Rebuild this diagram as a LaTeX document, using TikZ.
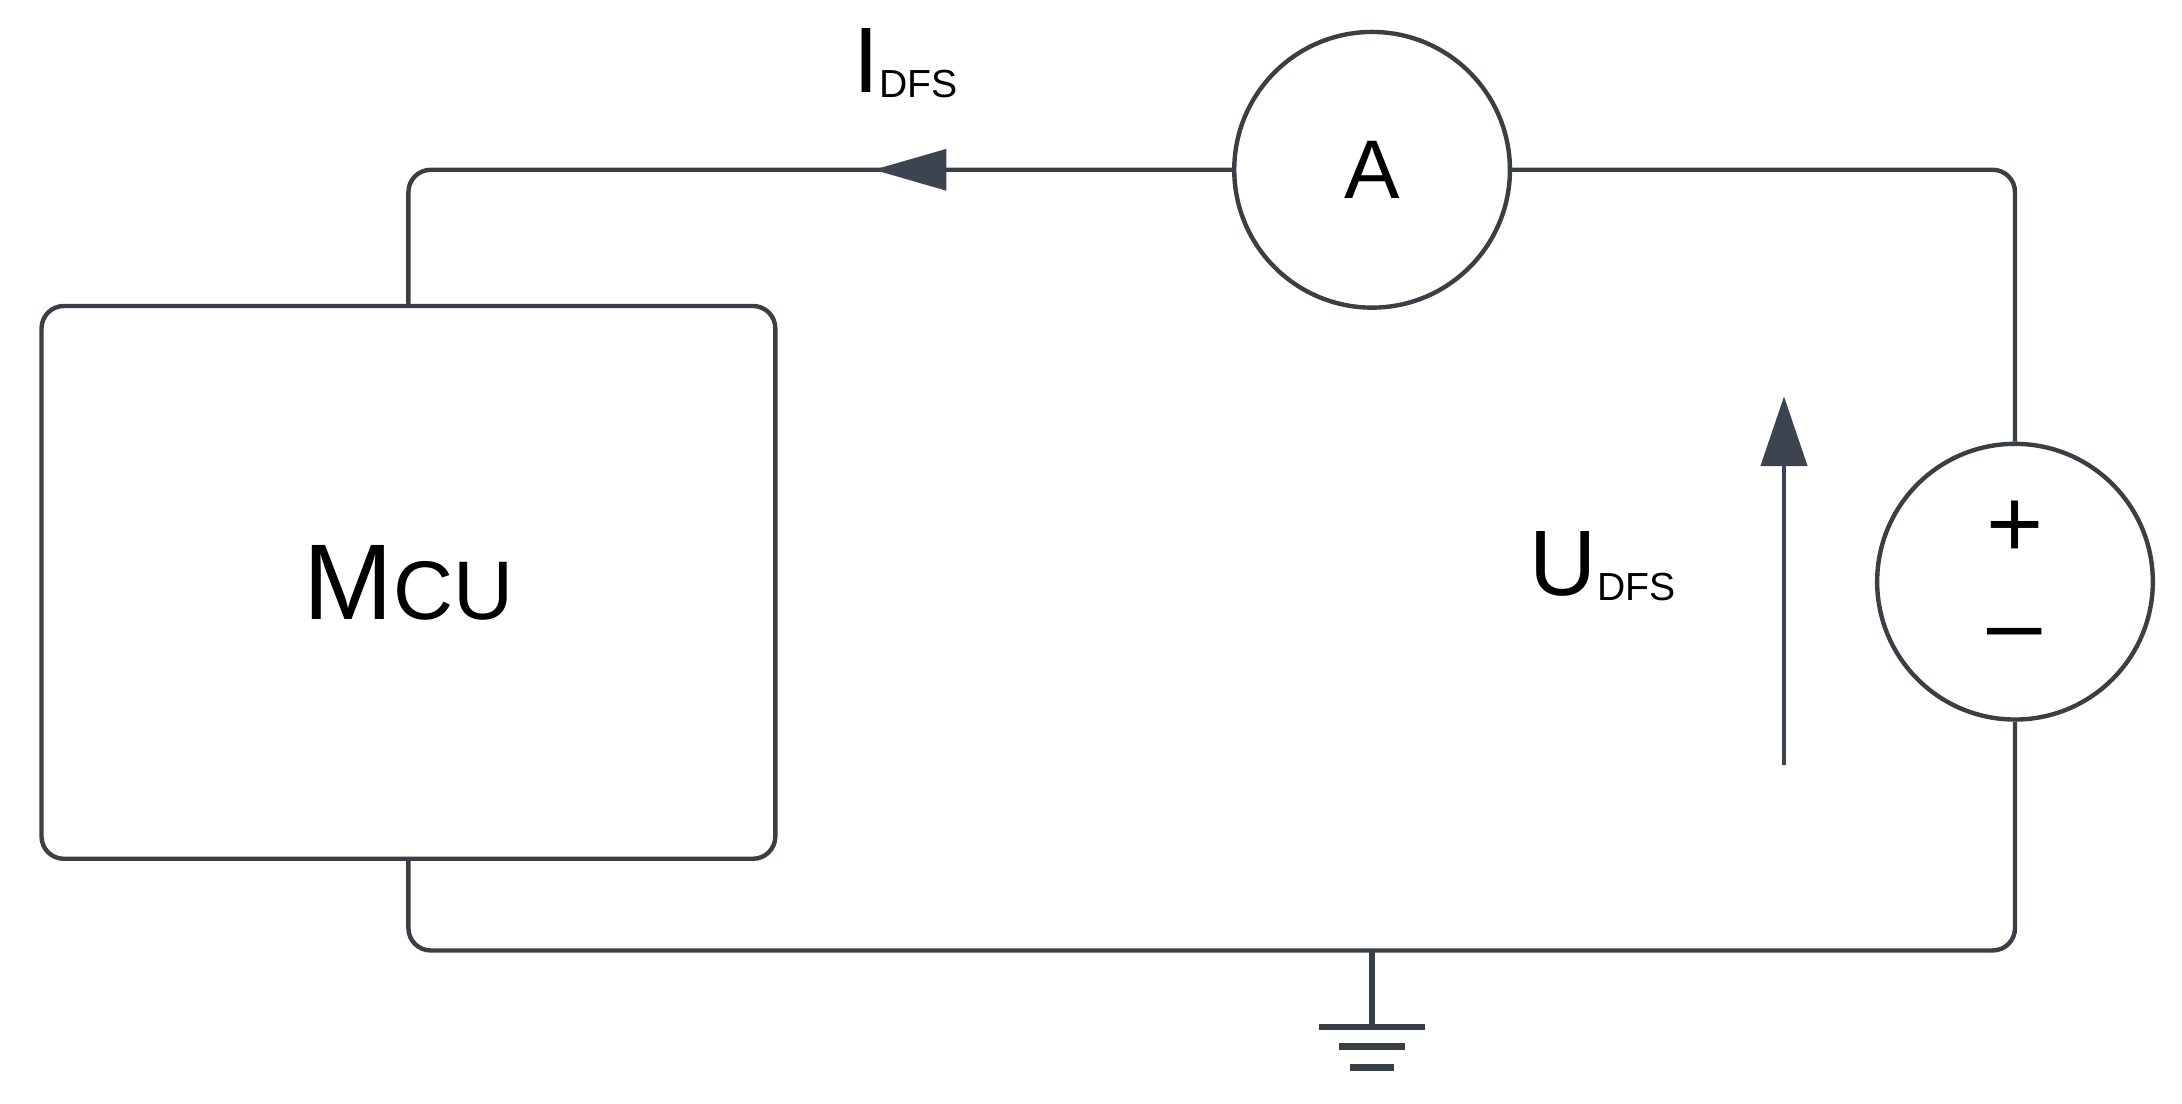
\documentclass[tikz,border=0pt]{standalone}
\usepackage{fontspec}
\setmainfont{Liberation Sans}
\usetikzlibrary{arrows.meta,positioning}
\definecolor{wire}{HTML}{3A3F45}
\definecolor{tip}{HTML}{3B4450}
\begin{document}
\begin{tikzpicture}[x=0.01cm,y=-0.01cm,
  thick,
  wire/.style={draw=wire,line width=0.9pt,rounded corners=1.6mm},
  meter/.style={circle,draw=wire,line width=0.9pt,minimum size=1.98cm,inner sep=0pt,fill=white},
  block/.style={rectangle,draw=wire,line width=0.9pt,rounded corners=1.6mm,minimum width=5.27cm,minimum height=3.97cm},
  big/.style={font=\fontsize{22}{26}\selectfont}]
  \useasboundingbox (0,0) rectangle (1568,793);

    \node[block] (MCU) at (293.5,418.5) {};
    \node[big] (MCULabel) at (MCU.center) {M{\fontsize{17}{20}\selectfont CU}};
    \node[meter] (AMP) at (986,122) {};
    \node[font=\fontsize{17}{20}\selectfont] (AMPLabel) at (AMP.center) {A};
    \node[meter] (SRC) at (1448,418) {};
    \node[font=\fontsize{20}{22}\selectfont] (Plus) at (1448,380) {+};
    \node[font=\fontsize{20}{22}\selectfont] (Minus) at (1448,462) {\textendash};
    \coordinate (GND) at (986,683);

    \draw[wire] (MCU.north) |- (AMP.west);
    \draw[wire] (AMP.east) -| (SRC.north);
    \draw[wire] (SRC.south) |- (GND) -| (MCU.south);

    % current direction
    \coordinate (Itip) at (628,122);
    \draw[draw=none,fill=tip] (Itip) -- (680,107) -- (680,137) -- cycle;
    \node[anchor=south west,inner sep=0pt,font=\fontsize{19}{22}\selectfont] (Ilabel) at (612,72) {I\raisebox{-0.1ex}{\fontsize{8}{9}\selectfont DFS}};

    % voltage arrow
    \coordinate (Ubot) at (1282,550);
    \coordinate (Utop) at (1282,285);
    \draw[tip,line width=1pt] (Ubot) -- (1282,330);
    \draw[draw=none,fill=tip] (Utop) -- (1265,335) -- (1299,335) -- cycle;
    \node[anchor=south west,inner sep=0pt,font=\fontsize{19}{22}\selectfont] (Ulabel) at (1098,433) {U\raisebox{-0.1ex}{\fontsize{8}{9}\selectfont DFS}};

    % ground
    \coordinate (G1) at (986,738);
    \draw[wire,rounded corners=0pt,line width=1.3pt] (GND) -- (G1);
    \draw[wire,rounded corners=0pt,line width=1.3pt] (948,738) -- (1024,738);
    \draw[wire,rounded corners=0pt,line width=1.3pt] (962,752) -- (1010,752);
    \draw[wire,rounded corners=0pt,line width=1.3pt] (970,767) -- (1002,767);
\end{tikzpicture}
\end{document}
